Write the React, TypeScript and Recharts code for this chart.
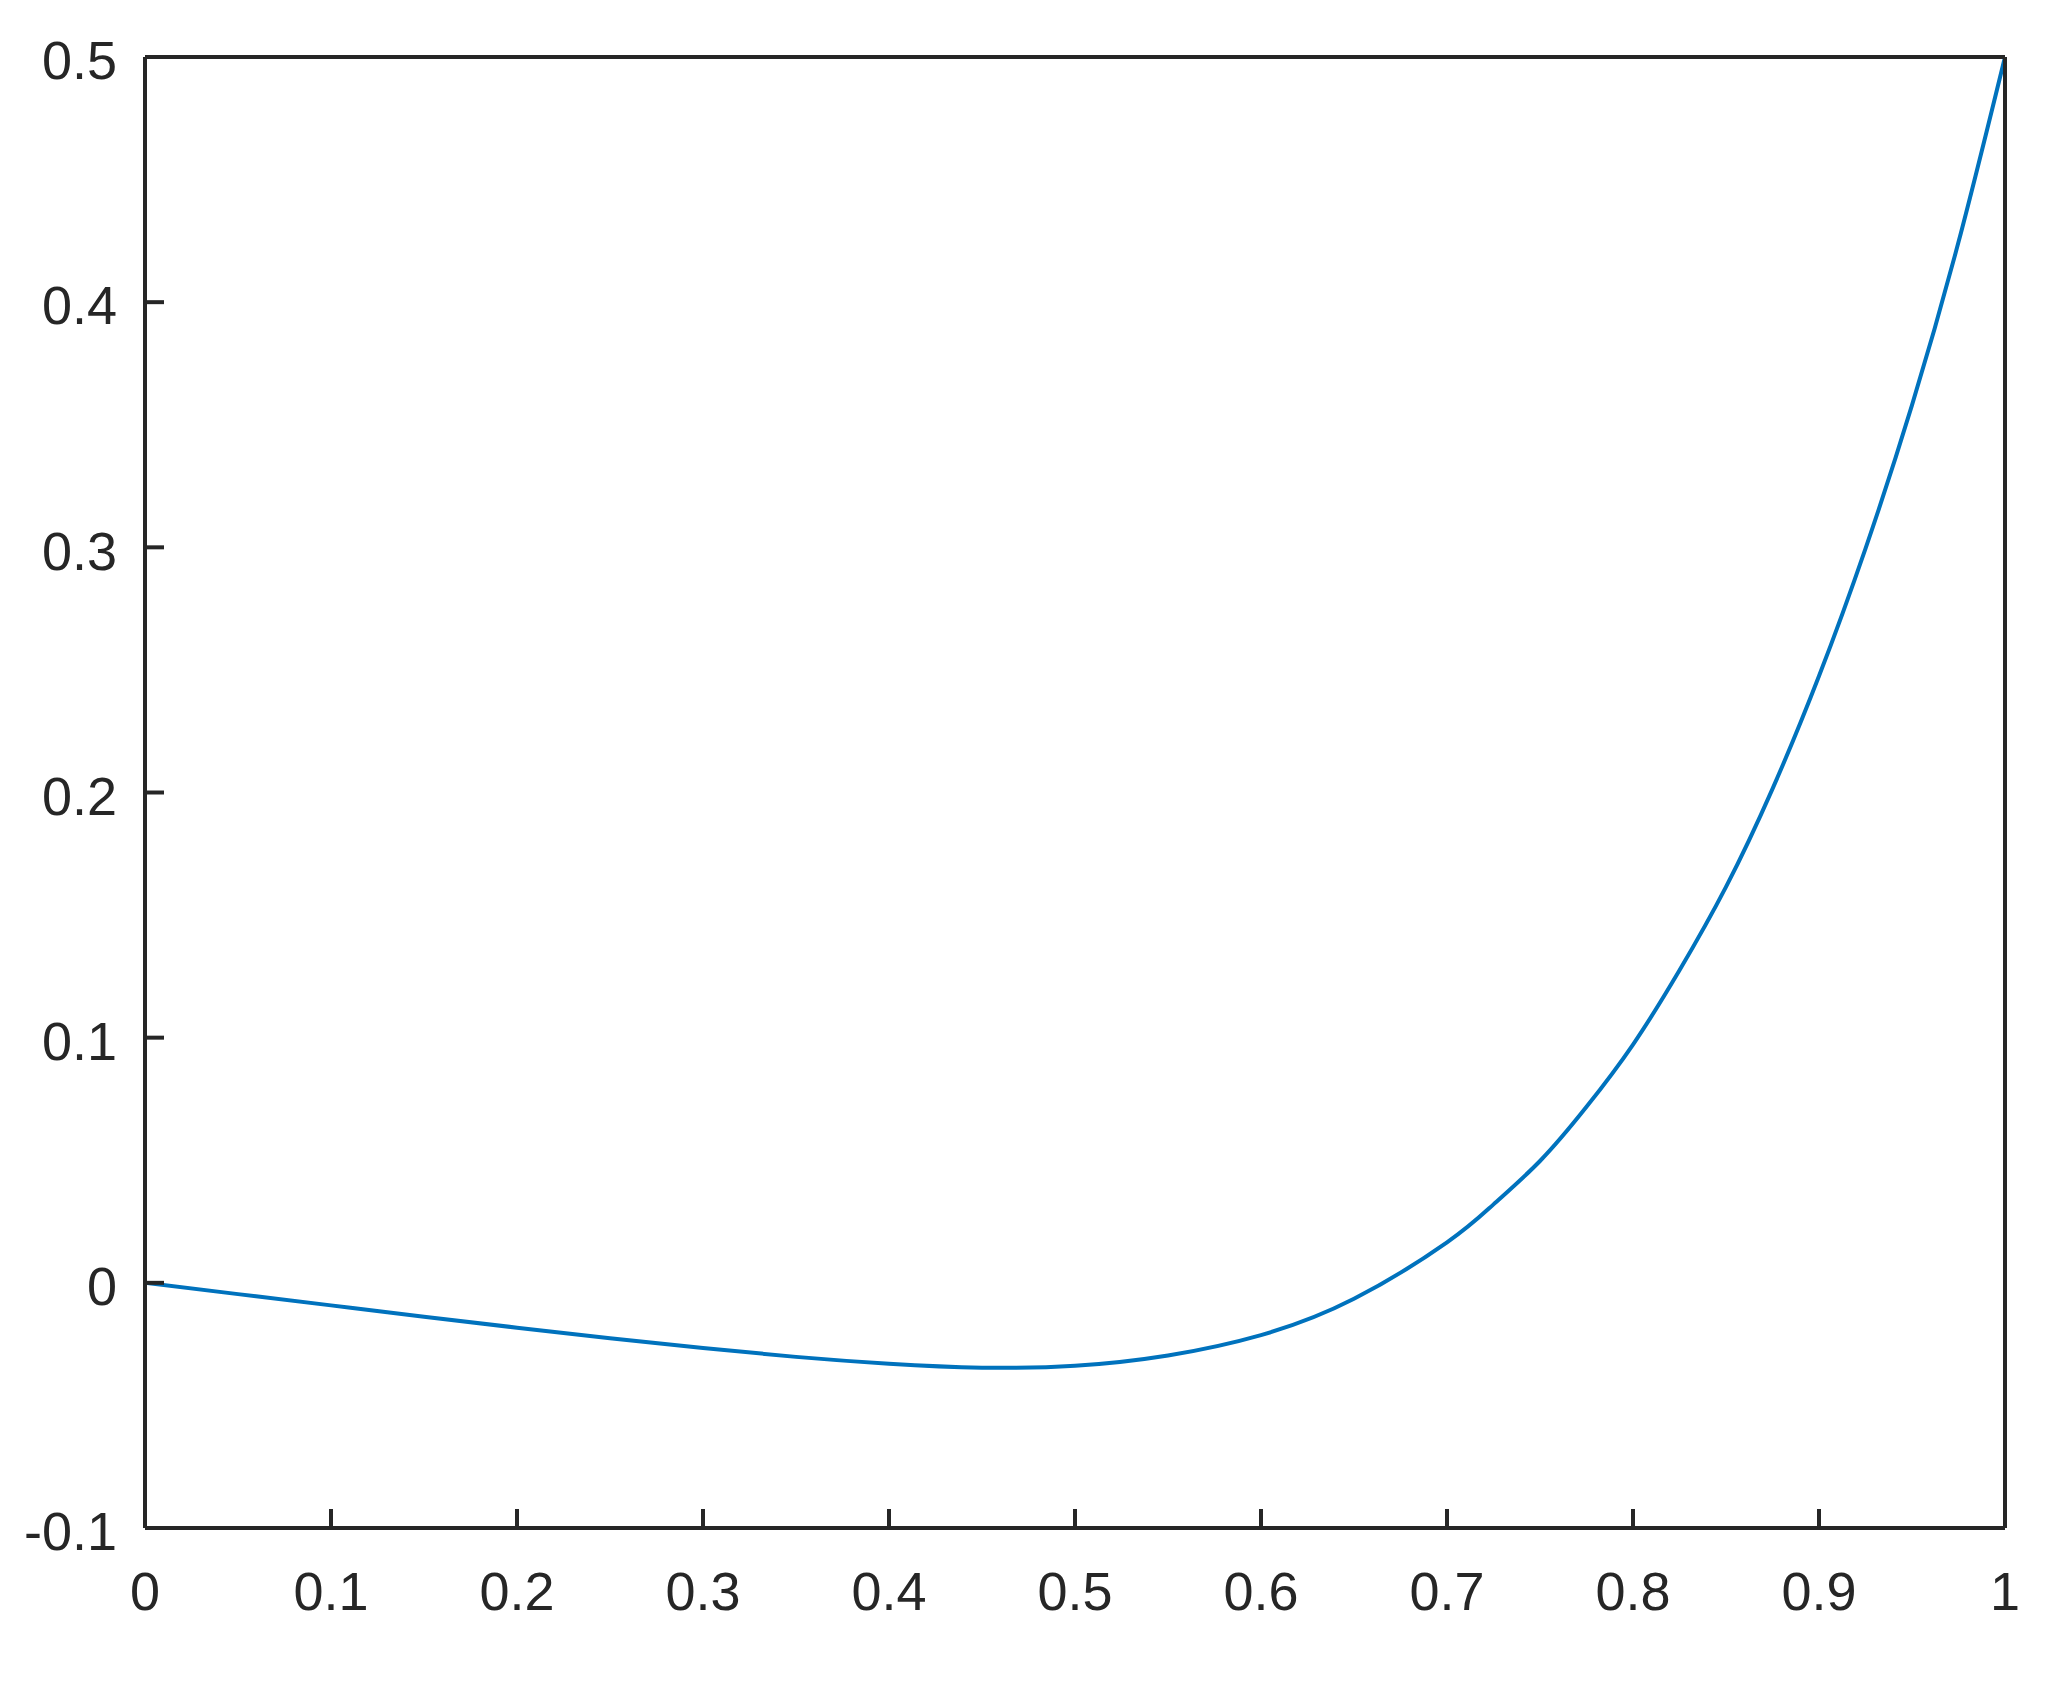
import React from 'react';
import { LineChart, Line, XAxis, YAxis } from 'recharts';

// Values
const xValues = [
  0, 0.05, 0.1, 0.15, 0.2, 0.25, 0.3, 0.35, 0.4, 0.45, 0.5, 0.55, 0.6, 0.65,
  0.7, 0.725, 0.75, 0.775, 0.8, 0.825, 0.85, 0.875, 0.9, 0.925, 0.95, 0.975, 1.0,
];
const yValues = [
  0, -0.0046, -0.0092, -0.0138, -0.0183, -0.0226, -0.0266, -0.0302, -0.033,
  -0.0346, -0.0338, -0.0296, -0.0213, -0.0065, 0.0165, 0.032, 0.0497, 0.0718,
  0.0972, 0.1275, 0.1615, 0.2015, 0.2475, 0.2995, 0.358, 0.4245, 0.5,
];

const xTicks = [0, 0.1, 0.2, 0.3, 0.4, 0.5, 0.6, 0.7, 0.8, 0.9, 1];
const yTicks = [-0.1, 0, 0.1, 0.2, 0.3, 0.4, 0.5];

const data = xValues.map((x, i) => ({ x, y: yValues[i] }));

const AXIS = '#262626';
const LINE = '#0072BD';
const FONT = '"Liberation Sans", Arial, Helvetica, sans-serif';
const tickStyle = { fill: AXIS, fontSize: 54, fontFamily: FONT };
const lineStyle = { stroke: AXIS, strokeWidth: 4 };

export default function App() {
  return (
    <div style={{ width: 2060, height: 1680, background: '#fff' }}>
      <LineChart
        width={2060}
        height={1680}
        data={data}
        margin={{ top: 48, right: 62, bottom: 100, left: 0 }}
      >
        <XAxis
          dataKey="x"
          type="number"
          domain={[0, 1]}
          ticks={xTicks}
          interval={0}
          height={60}
          axisLine={lineStyle}
          tickLine={lineStyle}
          tickSize={-19}
          tickMargin={63}
          tick={tickStyle}
          allowDataOverflow
        />
        <XAxis
          xAxisId="top"
          orientation="top"
          type="number"
          domain={[0, 1]}
          ticks={xTicks}
          interval={0}
          height={1}
          axisLine={lineStyle}
          tickLine={lineStyle}
          tickSize={-19}
          tick={false}
          allowDataOverflow
        />
        <YAxis
          type="number"
          domain={[-0.1, 0.5]}
          ticks={yTicks}
          interval={0}
          width={137}
          axisLine={lineStyle}
          tickLine={lineStyle}
          tickSize={-19}
          tickMargin={47}
          tick={{ ...tickStyle, dy: 3 }}
          allowDataOverflow
        />
        <YAxis
          yAxisId="right"
          orientation="right"
          type="number"
          domain={[-0.1, 0.5]}
          ticks={yTicks}
          interval={0}
          width={1}
          axisLine={lineStyle}
          tickLine={lineStyle}
          tickSize={-19}
          tick={false}
          allowDataOverflow
        />
        <Line
          type="natural"
          dataKey="y"
          stroke={LINE}
          strokeWidth={4}
          dot={false}
          activeDot={false}
          isAnimationActive={false}
        />
      </LineChart>
    </div>
  );
}
